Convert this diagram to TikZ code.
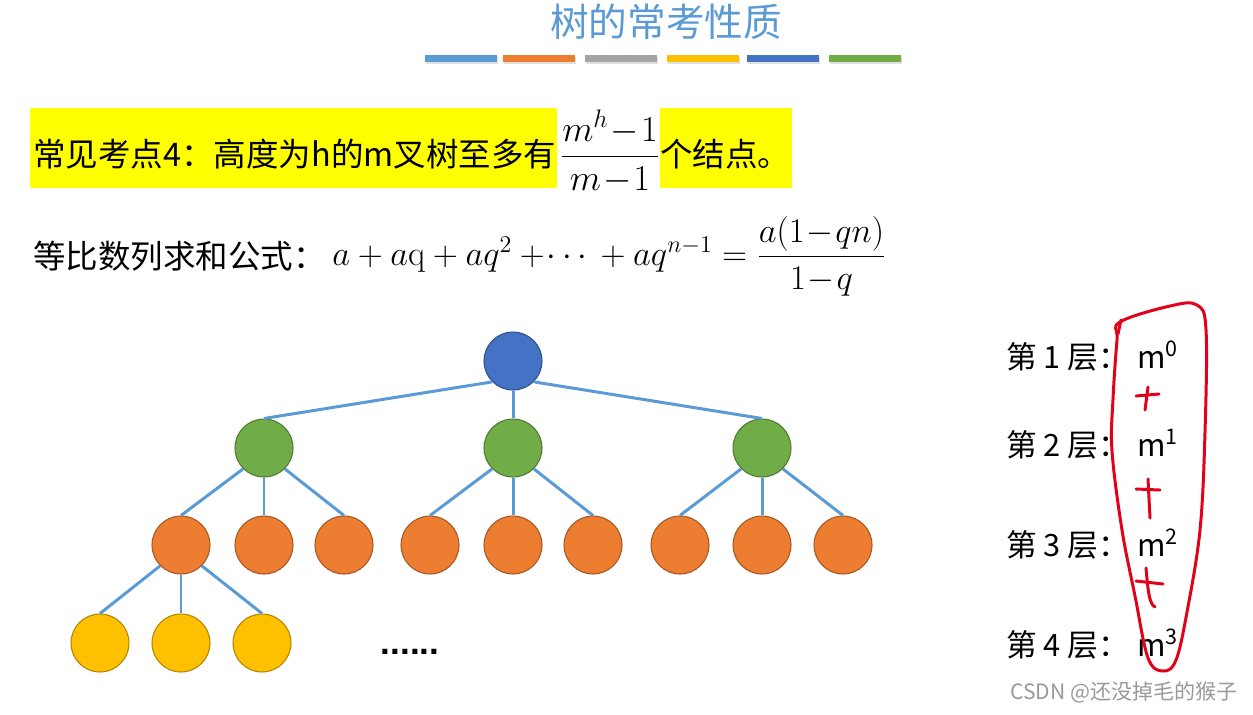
\documentclass[tikz,border=0pt]{standalone}
\usepackage{fontspec}
\usepackage{amsmath}
\newfontfamily\cjk{Noto Sans CJK SC}
\newfontfamily\latin{Liberation Sans}

\definecolor{lineblue}{HTML}{5B9BD5}
\definecolor{accorange}{HTML}{ED7D31}
\definecolor{accgray}{HTML}{A5A5A5}
\definecolor{accyellow}{HTML}{FFC000}
\definecolor{accblue}{HTML}{4472C4}
\definecolor{accgreen}{HTML}{70AD47}
\definecolor{hiyellow}{HTML}{FFFF00}
\definecolor{penred}{HTML}{E2001A}
\definecolor{titleblue}{HTML}{5B9BD5}

\begin{document}
\begin{tikzpicture}[x=0.02cm, y=-0.02cm,
		vertex/.style={circle, minimum size=1.16cm, inner sep=0pt, draw=#1!70!black, line width=0.6pt, fill=#1},
		edge/.style={lineblue, line width=1.7pt},
		txt/.style={font=\cjk\fontsize{18.5}{22}\selectfont, inner sep=0pt},
		formula/.style={font=\fontsize{21}{25}\selectfont, inner sep=0pt},
		lvl/.style={font=\cjk\fontsize{17.5}{21}\selectfont, inner sep=0pt, anchor=base west},
		pen/.style={penred, line width=1.7pt, line cap=round, line join=round}
		]
		
		\useasboundingbox (0,0) rectangle (1253,714);
		\clip (0,0) rectangle (1253,714);
		
		% ==========================================
		% 1. TITLE AND COLOUR BARS
		% ==========================================
		\node[font=\cjk\fontsize{22}{26}\selectfont, text=titleblue, anchor=base] (title) at (666,36) {树的常考性质};
		% Data format: left x / colour
		\foreach \x/\clr in {425/lineblue, 503/accorange, 585/accgray, 667/accyellow, 747/accblue, 829/accgreen} {
			\fill[black!12] (\x+1,57) rectangle (\x+73,64);
			\fill[\clr] (\x,55) rectangle (\x+72,62);
		}
		
		% ==========================================
		% 2. FORMULA LINES
		% ==========================================
		\fill[hiyellow] (30,108) rectangle (557,188);
		\fill[hiyellow] (660,108) rectangle (792,188);
		\node[txt, anchor=base west] (point) at (33,166) {常见考点4：高度为h的m叉树至多有};
		\node[formula] (frac) at (610,152) {$\dfrac{m^h\!-\!1}{m\!-\!1}$};
		\node[txt, anchor=base west] (count) at (660,166) {个结点。};
		
		\node[txt, anchor=base west] (sumtxt) at (33,268) {等比数列求和公式：};
		\node[formula, anchor=west, scale=0.95, transform shape] (sum) at (332,256)
		{$a+a\mathrm{q}+aq^2+\!\cdots\,+aq^{n-1}=\dfrac{a(1\!-\!qn)}{1\!-\!q}$};
		
		% ==========================================
		% 3. THE TREE
		% ==========================================
		\node[vertex=accblue] (root) at (513,361) {};
		% Data format: index / x / anchor on the root
		\foreach \k/\x/\a in {1/264/south west, 2/513/south, 3/762/south east} {
			\node[vertex=accgreen] (g\k) at (\x,448) {};
			\draw[edge] (root.\a) -- (g\k.north);
		}
		% Data format: index / x / parent / anchor on the parent
		\foreach \k/\x/\p/\a in {1/181/1/south west, 2/264/1/south, 3/344/1/south east,
			4/430/2/south west, 5/513/2/south, 6/593/2/south east,
			7/680/3/south west, 8/762/3/south, 9/843/3/south east} {
			\node[vertex=accorange] (o\k) at (\x,545) {};
			\draw[edge] (g\p.\a) -- (o\k.north);
		}
		\foreach \k/\x/\a in {1/100/south west, 2/181/south, 3/262/south east} {
			\node[vertex=accyellow] (y\k) at (\x,643) {};
			\draw[edge] (o1.\a) -- (y\k.north);
		}
		\node[font=\latin\bfseries\fontsize{20}{24}\selectfont, inner sep=0pt, anchor=base] (dots) at (410,654) {......};
		
		% ==========================================
		% 4. LEVEL COUNTS
		% ==========================================
		% Data format: level / baseline y / exponent
		\foreach \i/\y/\e in {1/368/0, 2/456/1, 3/556/2, 4/656/3} {
			\node[lvl] (lv\i) at (1006,\y) {第 \i\ 层：};
			\node[lvl] (pw\i) at (1137,\y) {m\textsuperscript{\e}};
		}
		
		% hand-drawn marks
		\draw[pen] plot[smooth cycle, tension=0.6] coordinates {
			(1120,322) (1170,306) (1197,305) (1206,330) (1205,432) (1200,530)
			(1187,612) (1176,660) (1163,671) (1148,658) (1135,596) (1122,530)
			(1112,451) (1113,399) (1117,340)};
		\draw[pen] (1121,320) -- (1118,334);
		\draw[pen] (1136,396) -- (1159,394);
		\draw[pen] (1148,387) -- (1145,410);
		\draw[pen] (1136,489) -- (1160,490);
		\draw[pen] (1148,479) -- (1150,518);
		\draw[pen] (1136,581) -- (1163,584);
		\draw[pen] (1146,568) .. controls (1148,590) and (1149,604) .. (1155,607);
		
		\node[font=\cjk\fontsize{12}{14}\selectfont, text=black!40, anchor=base east, inner sep=0pt] (mark) at (1238,699) {CSDN @还没掉毛的猴子};
		
	\end{tikzpicture}
\end{document}
